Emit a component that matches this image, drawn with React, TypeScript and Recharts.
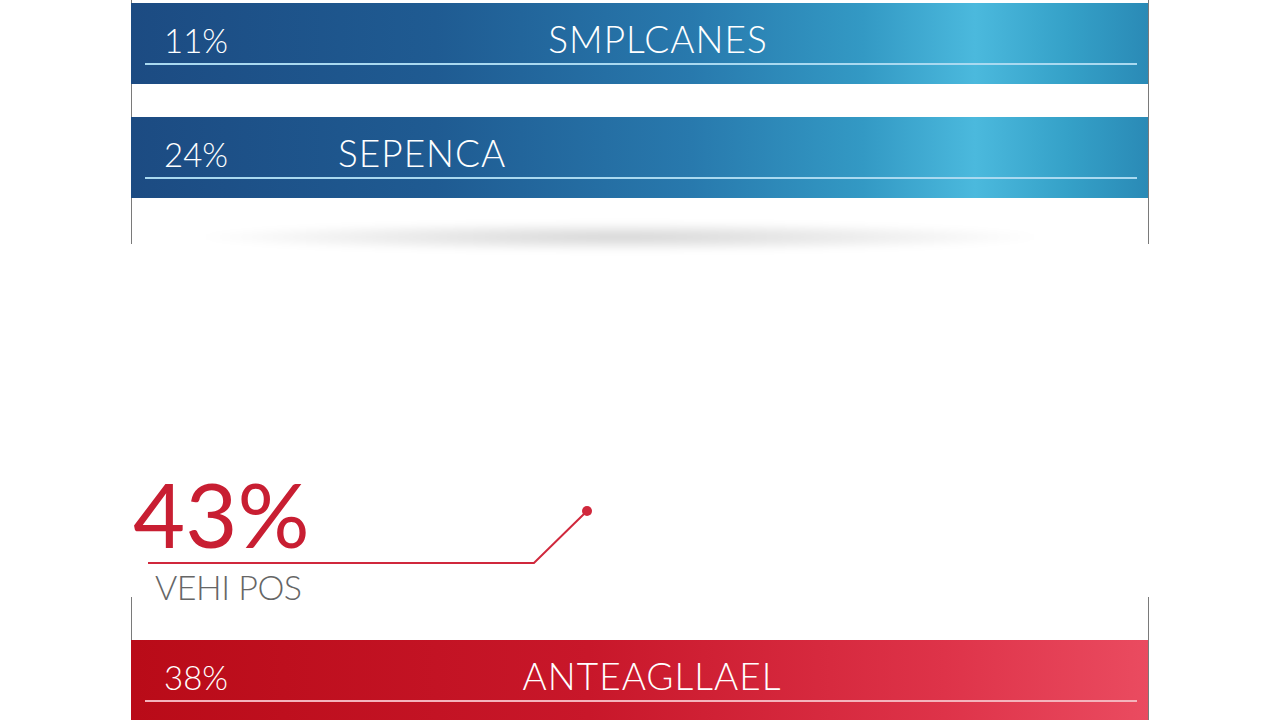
import React from 'react';
import { BarChart, Bar, XAxis, YAxis, LineChart, Line } from 'recharts';

const categories = ['SMPLCANES', 'SEPENCA', 'ANTEAGLLAEL'];
const shares = [11, 24, 38];
const calloutValue = 43;
const calloutLabel = 'VEHI POS';

// label placement per category (chart coords), style only
const namePlacement: Record<string, { x: number; anchor: 'start' | 'middle' }> = {
  SMPLCANES: { x: 527, anchor: 'middle' },
  SEPENCA: { x: 207, anchor: 'start' },
  ANTEAGLLAEL: { x: 521, anchor: 'middle' },
};

const rows = categories.map((name, i) => ({ name, value: shares[i] }));
const topRows = rows.slice(0, 2);
const bottomRows = rows.slice(2);

const CHART_W = 1017;
const BAR_H = 81;

const BandShape = (props: any) => {
  const { x, y, width, height, payload, lineColor, gradId } = props;
  const bg = props.background || { x: 0, width: CHART_W };
  const place = namePlacement[payload.name];
  return (
    <g>
      <rect x={x} y={y} width={width} height={height} fill={`url(#${gradId})`} />
      <line x1={bg.x + 14} x2={bg.x + bg.width - 11} y1={y + 61} y2={y + 61} stroke={lineColor} strokeWidth={2} />
      <text x={bg.x + 33} y={y + 50} fill="#ffffff" fontSize={33} fontFamily="Lato" fontWeight={300}>
        {payload.value}%
      </text>
      <text
        x={place.x}
        y={y + 50}
        textAnchor={place.anchor}
        fill="#ffffff"
        fontSize={37}
        fontFamily="Lato"
        fontWeight={300}
        letterSpacing={1}
      >
        {payload.name}
      </text>
    </g>
  );
};

const BlueGradient = () => (
  <defs>
    <linearGradient id="blueGrad" gradientUnits="userSpaceOnUse" x1={0} y1={0} x2={CHART_W} y2={0}>
      <stop offset="0%" stopColor="#1c4b82" />
      <stop offset="30%" stopColor="#1f5b92" />
      <stop offset="55%" stopColor="#2879ad" />
      <stop offset="72%" stopColor="#3399c4" />
      <stop offset="83%" stopColor="#4bb9dd" />
      <stop offset="92%" stopColor="#35a1c8" />
      <stop offset="100%" stopColor="#2a8ab6" />
    </linearGradient>
  </defs>
);

const RedGradient = () => (
  <defs>
    <linearGradient id="redGrad" gradientUnits="userSpaceOnUse" x1={0} y1={0} x2={CHART_W} y2={0}>
      <stop offset="0%" stopColor="#b90b18" />
      <stop offset="45%" stopColor="#c8172a" />
      <stop offset="80%" stopColor="#de3349" />
      <stop offset="100%" stopColor="#ea4b60" />
    </linearGradient>
  </defs>
);

const LeaderDot = (props: any) => {
  if (props.index !== 2) return <g key={props.index} />;
  return <circle key={props.index} cx={props.cx} cy={props.cy} r={5} fill="#d0283c" />;
};

const leader = [
  { x: 0, y: 0 },
  { x: calloutValue - 5.2, y: 0 },
  { x: calloutValue, y: 1 },
];

const vline = (left: number, top: number, height: number) => (
  <div style={{ position: 'absolute', left, top, width: 1.5, height, background: '#7a7a7a' }} />
);

export default function App() {
  return (
    <div style={{ position: 'fixed', left: 0, top: 0, width: 1280, height: 720, background: '#ffffff', overflow: 'hidden' }}>
      {vline(130.5, 0, 244)}
      {vline(1147.5, 0, 244)}
      {vline(130.5, 597, 123)}
      {vline(1147.5, 597, 123)}

      <div
        style={{
          position: 'absolute',
          left: 190,
          top: 222,
          width: 860,
          height: 30,
          background: 'radial-gradient(ellipse at center, rgba(0,0,0,0.16) 0%, rgba(0,0,0,0.06) 45%, rgba(0,0,0,0) 70%)',
          filter: 'blur(3px)',
        }}
      />

      <div style={{ position: 'absolute', left: 131, top: -14.5 }}>
        <BarChart width={CHART_W} height={228} data={topRows} layout="vertical" margin={{ top: 0, right: 0, bottom: 0, left: 0 }} barSize={BAR_H}>
          <BlueGradient />
          <XAxis type="number" domain={[0, 100]} hide />
          <YAxis type="category" dataKey="name" hide width={0} />
          <Bar
            dataKey="value"
            isAnimationActive={false}
            background={{ fill: 'url(#blueGrad)' }}
            shape={(p: any) => <BandShape {...p} gradId="blueGrad" lineColor="#a9d9f0" />}
          />
        </BarChart>
      </div>

      <div style={{ position: 'absolute', left: 131, top: 640 }}>
        <BarChart width={CHART_W} height={BAR_H} data={bottomRows} layout="vertical" margin={{ top: 0, right: 0, bottom: 0, left: 0 }} barCategoryGap={0}>
          <RedGradient />
          <XAxis type="number" domain={[0, 100]} hide />
          <YAxis type="category" dataKey="name" hide width={0} />
          <Bar
            dataKey="value"
            isAnimationActive={false}
            background={{ fill: 'url(#redGrad)' }}
            shape={(p: any) => <BandShape {...p} gradId="redGrad" lineColor="#f4b3bc" />}
          />
        </BarChart>
      </div>

      <div style={{ position: 'absolute', left: 148, top: 505 }}>
        <LineChart width={1021} height={64} data={leader} margin={{ top: 6, right: 0, bottom: 6, left: 0 }}>
          <XAxis type="number" dataKey="x" domain={[0, 100]} hide />
          <YAxis type="number" domain={[0, 1]} hide width={0} />
          <Line type="linear" dataKey="y" stroke="#d0283c" strokeWidth={2} dot={LeaderDot} isAnimationActive={false} />
        </LineChart>
      </div>

      <div
        style={{
          position: 'absolute',
          left: 133,
          top: 458,
          fontFamily: 'Lato',
          fontSize: 90,
          lineHeight: '110px',
          color: '#c81e32',
          fontWeight: 400,
        }}
      >
        {calloutValue}%
      </div>
      <div
        style={{
          position: 'absolute',
          left: 155,
          top: 567,
          fontFamily: 'Lato',
          fontSize: 34,
          lineHeight: '40px',
          color: '#666666',
          fontWeight: 300,
          letterSpacing: -0.5,
        }}
      >
        {calloutLabel}
      </div>
    </div>
  );
}
